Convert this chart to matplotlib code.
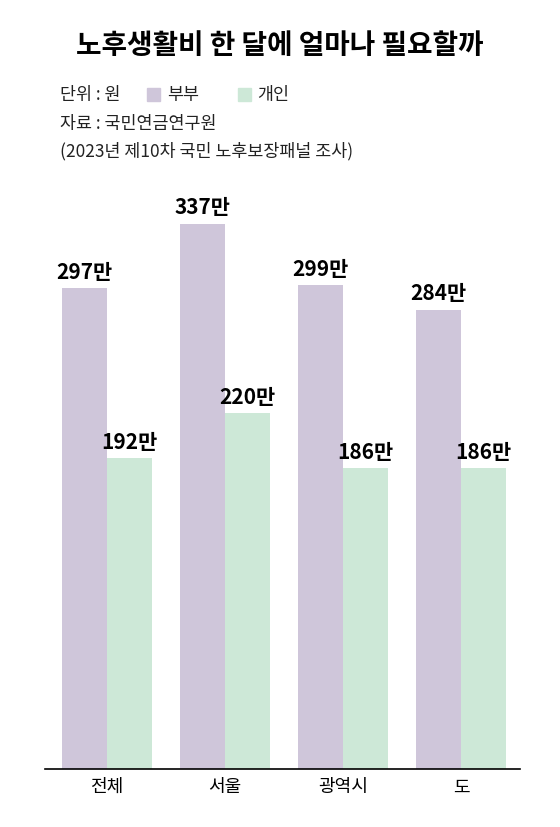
import matplotlib
matplotlib.use("Agg")
import matplotlib.pyplot as plt
import numpy as np

plt.rcParams['font.family'] = ['Noto Sans CJK KR', 'DejaVu Sans']

categories = ['전체', '서울', '광역시', '도']
couple = [297, 337, 299, 284]
single = [192, 220, 186, 186]

purple = '#cfc6da'
green = '#cde8d7'

fig = plt.figure(figsize=(5.6, 8.28), dpi=100)
ax = fig.add_axes([0.08, 0.07, 0.849, 0.725])

x = np.arange(len(categories))
w = 0.38
ax.bar(x - w / 2, couple, w, color=purple)
ax.bar(x + w / 2, single, w, color=green)
for xi, v in zip(x, couple):
    ax.text(xi - w / 2, v + 4, f'{v}만', ha='center', va='bottom',
            fontsize=15, fontweight='bold')
for xi, v in zip(x, single):
    ax.text(xi + w / 2, v + 4, f'{v}만', ha='center', va='bottom',
            fontsize=15, fontweight='bold')

ax.set_xlim(-0.525, 3.5)
ax.set_ylim(0, 371)
ax.set_yticks([])
ax.set_xticks(x)
ax.set_xticklabels(categories, fontsize=13)
ax.tick_params(axis='x', length=0, pad=6)
for s in ['top', 'right', 'left']:
    ax.spines[s].set_visible(False)
ax.spines['bottom'].set_linewidth(1.2)

fig.text(0.5, 0.945, '노후생활비 한 달에 얼마나 필요할까', ha='center', va='center',
         fontsize=20, fontweight='bold')
fig.text(0.108, 0.885, '단위 : 원', fontsize=12.5, va='center', color='#222222')
fig.patches.append(plt.Rectangle((0.262, 0.877), 0.024, 0.016, color=purple,
                                 transform=fig.transFigure))
fig.text(0.298, 0.885, '부부', fontsize=12.5, va='center', color='#222222')
fig.patches.append(plt.Rectangle((0.425, 0.877), 0.024, 0.016, color=green,
                                 transform=fig.transFigure))
fig.text(0.46, 0.885, '개인', fontsize=12.5, va='center', color='#222222')
fig.text(0.108, 0.85, '자료 : 국민연금연구원', fontsize=12.5, va='center', color='#222222')
fig.text(0.108, 0.817, '(2023년 제10차 국민 노후보장패널 조사)', fontsize=12.5,
         va='center', color='#222222')

fig.savefig('out.png', dpi=100)
